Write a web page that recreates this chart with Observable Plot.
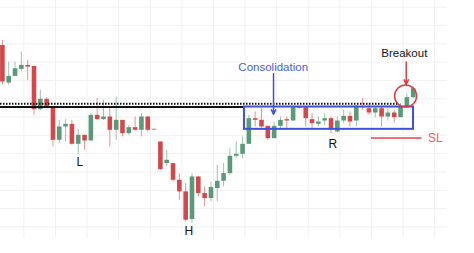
<!DOCTYPE html>
<html>
<head>
<meta charset="utf-8">
<script src="https://cdn.jsdelivr.net/npm/d3@7"></script>
<script src="https://cdn.jsdelivr.net/npm/@observablehq/plot@0.6"></script>
<style>
  html, body { margin: 0; padding: 0; background: #fff; }
  #chart svg { display: block; }
</style>
</head>
<body>
<div id="chart"></div>
<script>
// Candle values (price units), one entry per session
const open  = [62.5,51.2,53.2,55.3,56.5,56.2,43.2,46.3,43.8,34,38,38.8,32.8,35.5,33.8,41.5,40.2,41,37,40,36,37.8,37,41,37.3,33.5,27,27,22,18.5,10.2,23,18,16.5,19.5,21.7,24,29.2,29.8,32.8,40.5,40,38.2,34.5,38.2,40.2,39.8,43.6,43.8,40.2,38.8,39.8,40.5,36.5,39.8,41.2,39.8,44,43.5,42.2,43.5,41,42.2,40.8,44,46.8];
const close = [51.5,53.2,55.5,56.5,56,43.2,46.3,44,34,38,38.8,32.8,35.5,33.8,41.5,40.2,41,37,40,36,37.8,37,41,37,37.1,25.2,28,22,18.5,10,23,18,16.5,19.8,21.7,24,29.2,29.8,32.8,40.5,40,38,34.5,38.2,40,39.8,43.8,44,40.5,39,39.5,40.5,37.5,39.8,41.2,39.5,44.2,43.8,42.2,43.5,41,42.2,40.8,44,46.8,49.5];
const high  = [64,57.5,57.5,60.5,58,56.2,49,46.8,43.8,40,40.2,40,37.2,35.5,42,46.5,46,44,47,40,38.5,41,42,41,37.4,33.5,31,27,24,21,24,23,20,21.5,26.5,27,31.5,33.5,35,41.5,42.5,43.5,38.2,39.5,41,41,44,44.2,44,42,41,42,41,41,43,42.5,44.5,46.5,45,44.2,44.2,43.5,43,45,48,50];
const low   = [50.5,50.5,53.2,54.5,52,41.5,43,44,32,33,33.5,32.5,29.8,31,33.8,40,40,32,34,35,35.5,36.8,35,36.5,37,25,26,21.5,16,9.5,9,17,14,15.5,15.5,20,23.5,28.5,28.5,32.8,38,37,34,34.5,37.5,37.5,39.8,43.4,38,37.5,38,38.5,36,36.2,39,38,38,43,41.5,40.8,38,39.8,39.2,40.8,44,46.5];

// Annotation levels and labels (data units: candle index, price)
const resistance = 44;        // solid black line
const dottedLevel = 45;       // dotted line
const boxRange = {x1: 38.3, x2: 65.05, y1: 37.3, y2: 44};
const slLevel = {x1: 58.4, x2: 66.4, y: 34.7};
const pointLabels = ["L", "H", "R"];
const pointX = [12.25, 29.5, 52.3];
const pointY = [27.3, 6.7, 32.8];

const candles = open.map((o, i) => ({i, open: o, close: close[i], high: high[i], low: low[i]}));
const GREEN = "#5a9a7a", RED = "#d4484c";
const col = d => d.close >= d.open ? GREEN : RED;

const gridX = d3.range(3.4, 71, 5);
const gridY = d3.range(8, 76, 5.5).concat([2.5]);

const chart = Plot.plot({
  width: 474,
  height: 253,
  marginTop: 0, marginRight: 0, marginBottom: 0, marginLeft: 0,
  x: {domain: [-0.3, 74.7], axis: null},
  y: {domain: [0, 76], axis: null},
  style: {background: "#fff", fontFamily: "Liberation Sans, Arial, sans-serif"},
  marks: [
    Plot.ruleX(gridX, {y1: 4.6, y2: 76, stroke: "#f1f1f1", strokeWidth: 1}),
    Plot.ruleY(gridY.filter(v => v > 4.6), {x1: -0.3, x2: 70.4, stroke: "#f1f1f1", strokeWidth: 1}),
    // wicks
    Plot.ruleX(candles, {x: "i", y1: "low", y2: "high", stroke: col, strokeOpacity: 0.6, strokeWidth: 1}),
    // bodies
    Plot.ruleX(candles, {x: "i", y1: "open", y2: "close", stroke: col, strokeWidth: 4.6}),
    // resistance lines
    Plot.ruleY([resistance], {x1: -0.3, x2: boxRange.x1, stroke: "#111", strokeWidth: 2}),
    Plot.ruleY([dottedLevel], {x1: -0.3, x2: 62.8, stroke: "#111", strokeWidth: 2, strokeDasharray: "1.5,1.5"}),
    // consolidation box
    Plot.rect([boxRange], {x1: "x1", x2: "x2", y1: "y1", y2: "y2", fill: "none", stroke: "#3d50e0", strokeWidth: 2}),
    Plot.text(["Consolidation"], {x: 42.85, y: 55.9, fill: "#4a5ce6", fontSize: 11.5}),
    Plot.arrow([{x: 42.9, y1: 54, y2: 41.8}], {x1: "x", x2: "x", y1: "y1", y2: "y2", stroke: "#3d50e0", strokeWidth: 1.5, headLength: 5, headAngle: 50}),
    // breakout
    Plot.text(["Breakout"], {x: 63.6, y: 60.2, fill: "#111", fontSize: 11.5}),
    Plot.arrow([{x: 63.9, y1: 57.5, y2: 50.8}], {x1: "x", x2: "x", y1: "y1", y2: "y2", stroke: "#e03c44", strokeWidth: 1.5, headLength: 5, headAngle: 50}),
    Plot.dot([{x: 63.8, y: 47.3}], {x: "x", y: "y", r: 11, stroke: "#e03c44", strokeWidth: 1.5, fill: "none"}),
    // stop loss
    Plot.ruleY([slLevel], {x1: "x1", x2: "x2", y: "y", stroke: "#e8434b", strokeWidth: 1.5}),
    Plot.text(["SL"], {x: 68.5, y: slLevel.y, fill: "#e8606a", fontSize: 12}),
    // pattern labels
    Plot.text(pointLabels, {x: (d, k) => pointX[k], y: (d, k) => pointY[k], text: d => d, fill: "#111", fontSize: 12})
  ]
});
document.getElementById("chart").append(chart);
</script>
</body>
</html>
